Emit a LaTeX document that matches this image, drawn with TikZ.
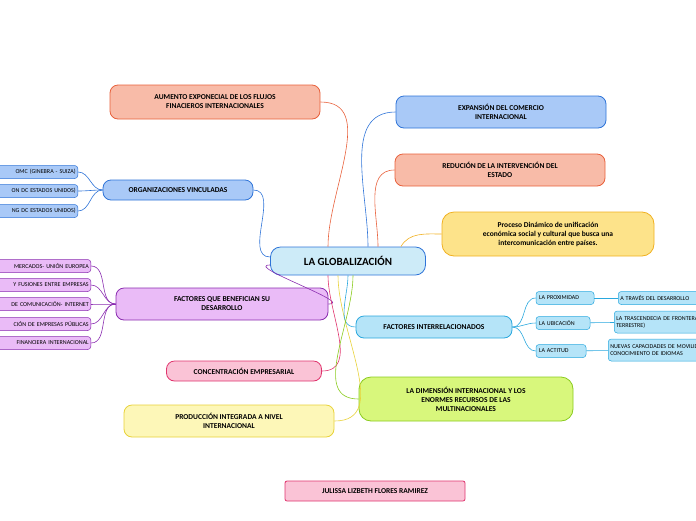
\documentclass[tikz,border=0pt]{standalone}
\usepackage{fontspec}
\setmainfont{Carlito}
\begin{document}
\begin{tikzpicture}[x=1pt,y=-1pt,
 box/.style={draw,rounded corners=8pt,line width=0.8pt,align=center,font=\fontsize{7.5}{9}\selectfont\bfseries,inner sep=2pt},
 sub/.style={draw,rounded corners=3pt,line width=0.5pt,font=\fontsize{6}{7}\selectfont,inner sep=2pt,minimum height=13pt},
 lsub/.style={sub,anchor=east,align=right,text width=112pt},
 con/.style={line width=0.6pt}]
\definecolor{cblue}{HTML}{A9C9F7}\definecolor{dblue}{HTML}{2F74D8}
\definecolor{csal}{HTML}{F8BBA8}\definecolor{dsal}{HTML}{E8613C}
\definecolor{cpur}{HTML}{EABBF7}\definecolor{dpur}{HTML}{8A2DB0}
\definecolor{cpink}{HTML}{FAC3D6}\definecolor{dpink}{HTML}{E0356E}
\definecolor{cyel}{HTML}{FDF7B8}\definecolor{dyel}{HTML}{E8D23A}
\definecolor{cora}{HTML}{FDE38A}\definecolor{dora}{HTML}{F0B020}
\definecolor{ccy}{HTML}{B5E4F8}\definecolor{dcy}{HTML}{2AA8DE}
\definecolor{cgr}{HTML}{D8F77C}\definecolor{dgr}{HTML}{8ACB1E}
\definecolor{cmain}{HTML}{CDEBF8}
\useasboundingbox (0,0) rectangle (696,520);
\clip (0,0) rectangle (696,520);
% main
\node[box,draw=dblue,fill=cmain,minimum width=155pt,minimum height=28pt,font=\fontsize{11}{13}\selectfont\bfseries,rounded corners=10pt] (m) at (348,261) {LA GLOBALIZACIÓN};
% left
\node[box,draw=dsal,fill=csal,minimum width=210pt,minimum height=34pt] (a) at (215,102) {AUMENTO EXPONECIAL DE LOS FLUJOS\\FINACIEROS INTERNACIONALES};
\node[box,draw=dblue,fill=cblue,minimum width=150pt,minimum height=20pt] (o) at (178,190) {ORGANIZACIONES VINCULADAS};
\node[box,draw=dpur,fill=cpur,minimum width=212pt,minimum height=32pt] (f) at (222,304) {FACTORES QUE BENEFICIAN SU\\DESARROLLO};
\node[box,draw=dpink,fill=cpink,minimum width=155pt,minimum height=20pt] (c) at (244,371) {CONCENTRACIÓN EMPRESARIAL};
\node[box,draw=dyel,fill=cyel,minimum width=210pt,minimum height=32pt] (p) at (229,421) {PRODUCCIÓN INTEGRADA A NIVEL\\INTERNACIONAL};
% right
\node[box,draw=dblue,fill=cblue,minimum width=210pt,minimum height=32pt] (e) at (501,112) {EXPANSIÓN DEL COMERCIO\\INTERNACIONAL};
\node[box,draw=dsal,fill=csal,minimum width=210pt,minimum height=32pt] (r) at (500,170) {REDUCIÓN DE LA INTERVENCIÓN DEL\\ESTADO};
\node[box,draw=dora,fill=cora,minimum width=212pt,minimum height=44pt,rounded corners=12pt] (pd) at (548,234) {Proceso Dinámico de unificación\\económica social y cultural que busca una\\intercomunicación entre países.};
\node[box,draw=dcy,fill=ccy,minimum width=156pt,minimum height=22pt] (fi) at (434,327) {FACTORES INTERRELACIONADOS};
\node[box,draw=dgr,fill=cgr,minimum width=214pt,minimum height=44pt,rounded corners=12pt] (d) at (466,399) {LA DIMENSIÓN INTERNACIONAL Y LOS\\ENORMES RECURSOS DE LAS\\MULTINACIONALES};
\node[box,draw=dpink,fill=cpink,minimum width=180pt,minimum height=20pt,rounded corners=2pt] (j) at (375,491) {JULISSA LIZBETH FLORES RAMIREZ};
% org children
\node[lsub,draw=dblue,fill=cblue] (o1) at (78,172) {OMC (GINEBRA - SUIZA)\hspace*{6pt}};
\node[lsub,draw=dblue,fill=cblue] (o2) at (78,191) {ON DC ESTADOS UNIDOS)};
\node[lsub,draw=dblue,fill=cblue] (o3) at (78,211) {NG DC ESTADOS UNIDOS)};
% factores children
\node[lsub,draw=dpur,fill=cpur] (f1) at (91,266) {MERCADOS- UNIÓN EUROPEA};
\node[lsub,draw=dpur,fill=cpur] (f2) at (91,285) {Y FUSIONES ENTRE EMPRESAS};
\node[lsub,draw=dpur,fill=cpur] (f3) at (91,304) {DE COMUNICACIÓN- INTERNET};
\node[lsub,draw=dpur,fill=cpur] (f4) at (91,324) {CIÓN DE EMPRESAS PÚBLICAS};
\node[lsub,draw=dpur,fill=cpur] (f5) at (91,343) {FINANCIERA INTERNACIONAL};
% interrelacionados children
\node[sub,draw=dcy,fill=ccy,minimum width=58pt,align=left,text width=52pt] (i1) at (565,298) {LA PROXIMIDAD};
\node[sub,draw=dcy,fill=ccy,minimum width=54pt,align=left,text width=48pt] (i2) at (563,323) {LA UBICACIÓN};
\node[sub,draw=dcy,fill=ccy,minimum width=50pt,align=left,text width=44pt] (i3) at (561,351) {LA ACTITUD};
\node[sub,draw=dcy,fill=ccy,anchor=west,align=left,text width=90pt] (t1) at (618,298) {A TRAVÉS DEL DESARROLLO};
\node[sub,draw=dcy,fill=ccy,anchor=west,align=left,text width=100pt,minimum height=22pt] (t2) at (614,322) {LA TRASCENDECIA DE FRONTERAS\\TERRESTRE)};
\node[sub,draw=dcy,fill=ccy,anchor=west,align=left,text width=110pt,minimum height=22pt] (t3) at (608,350) {NUEVAS CAPACIDADES DE MOVILIDAD\\CONOCIMIENTO DE IDIOMAS};
% connectors main
\draw[con,dsal] (m.north) ++(-20,0) to[out=90,in=0] (a.east);
\draw[con,dblue] (m.west) ++(0,-4) to[out=180,in=0] (o.east);
\draw[con,dpur] (m.west) ++(0,4) to[out=180,in=0] (f.east);
\draw[con,dpink] (m.south) ++(-20,0) to[out=-90,in=0] (c.east);
\draw[con,dyel] (m.south) ++(-10,0) to[out=-90,in=0] (p.east);
\draw[con,dblue] (m.north) ++(20,0) to[out=90,in=180] (e.west);
\draw[con,dsal] (m.north) ++(30,0) to[out=90,in=180] (r.west);
\draw[con,dora] (m.north east) ++(-25,0) to[out=60,in=180] (pd.west);
\draw[con,dcy] (m.south) ++(0,0) to[out=-90,in=180] (fi.west);
\draw[con,dgr] (m.south) ++(5,0) to[out=-90,in=180] (d.west);
% sub connectors
\foreach \n in {o1,o2,o3} \draw[con,dblue] (o.west) to[out=180,in=0] (\n.east);
\foreach \n in {f1,f2,f3,f4,f5} \draw[con,dpur] (f.west) to[out=180,in=0] (\n.east);
\foreach \n in {i1,i2,i3} \draw[con,dcy] (fi.east) to[out=0,in=180] (\n.west);
\draw[con,dcy] (i1) -- (t1); \draw[con,dcy] (i2) -- (t2); \draw[con,dcy] (i3) -- (t3);
\end{tikzpicture}
\end{document}
